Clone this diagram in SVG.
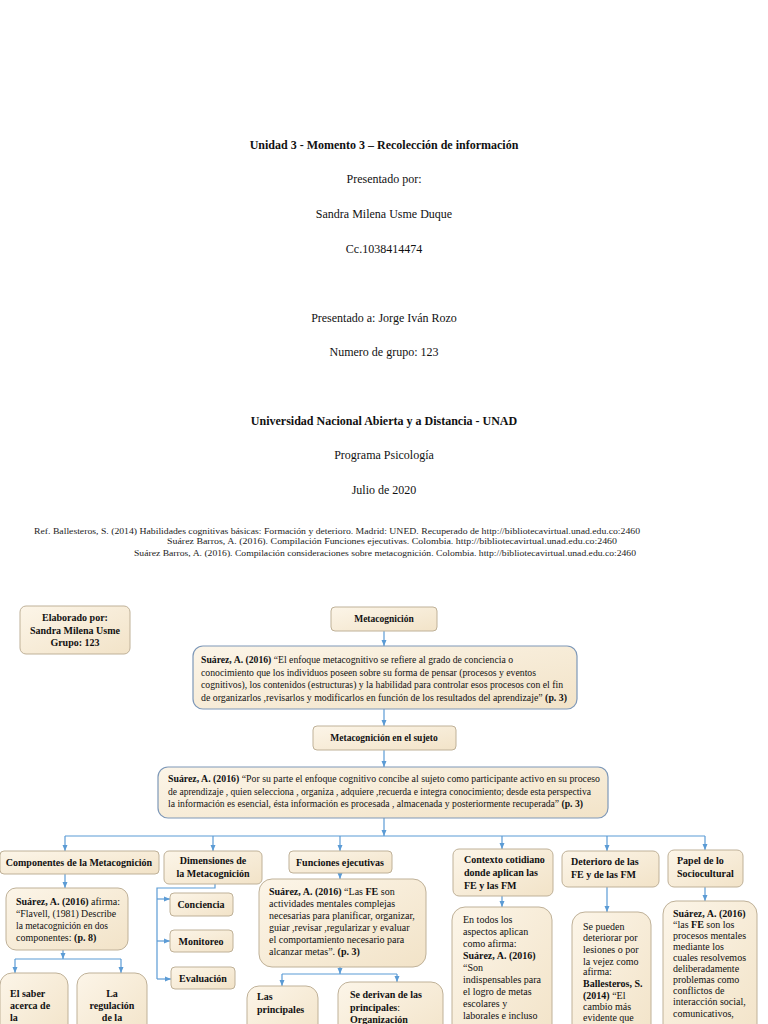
<svg xmlns="http://www.w3.org/2000/svg" width="768" height="1024" viewBox="0 0 768 1024">
<style>
.t{font-family:"Liberation Serif","Times New Roman",serif;font-size:12px;fill:#111}
.r{font-family:"Liberation Serif","Times New Roman",serif;font-size:9px;fill:#222}
.x{font-family:"Liberation Serif","Times New Roman",serif;font-size:9.5px;fill:#111}
.s{font-family:"Liberation Serif","Times New Roman",serif;font-size:10px;fill:#111}
.b{font-weight:bold}
.c{text-anchor:middle}
.n{fill:url(#pg);stroke:#bfb198;stroke-width:1}
.nb{fill:url(#pg);stroke:#7e98b8;stroke-width:1.2}
.k{fill:none;stroke:#5b9bd5;stroke-width:1.2}
</style>
<defs>
<linearGradient id="pg" x1="0" y1="0" x2="1" y2="1">
<stop offset="0" stop-color="#fcf5e8"/>
<stop offset="1" stop-color="#f2e3c8"/>
</linearGradient>
<marker id="ah" viewBox="0 0 6 6" refX="6" refY="3" markerWidth="6" markerHeight="6" markerUnits="userSpaceOnUse" orient="auto">
<path d="M0,0.5 L6,3 L0,5.5 z" fill="#5b9bd5"/>
</marker>
</defs>
<rect width="768" height="1024" fill="#fff"/>

<g id="cover">
<text class="t b c" x="384" y="149">Unidad 3 - Momento 3 – Recolección de información</text>
<text class="t c" x="384" y="183">Presentado por:</text>
<text class="t c" x="384" y="218">Sandra Milena Usme Duque</text>
<text class="t c" x="384" y="253">Cc.1038414474</text>
<text class="t c" x="384" y="322">Presentado a: Jorge Iván Rozo</text>
<text class="t c" x="384" y="356">Numero de grupo: 123</text>
<text class="t b c" x="384" y="425">Universidad Nacional Abierta y a Distancia - UNAD</text>
<text class="t c" x="384" y="459">Programa Psicología</text>
<text class="t c" x="384" y="494">Julio de 2020</text>
<text class="r" x="34" y="534" textLength="606" lengthAdjust="spacingAndGlyphs">Ref. Ballesteros, S. (2014) Habilidades cognitivas básicas: Formación y deterioro. Madrid: UNED. Recuperado de http://bibliotecavirtual.unad.edu.co:2460</text>
<text class="r" x="167" y="544" textLength="450" lengthAdjust="spacingAndGlyphs">Suárez Barros, A. (2016). Compilación Funciones ejecutivas. Colombia. http://bibliotecavirtual.unad.edu.co:2460</text>
<text class="r" x="134" y="556" textLength="502" lengthAdjust="spacingAndGlyphs">Suárez Barros, A. (2016). Compilación consideraciones sobre metacognición. Colombia. http://bibliotecavirtual.unad.edu.co:2460</text>
</g>

<g id="connectors">
<path class="k" d="M384,631 V646" marker-end="url(#ah)"/>
<path class="k" d="M384,709 V726" marker-end="url(#ah)"/>
<path class="k" d="M384,750 V767" marker-end="url(#ah)"/>
<path class="k" d="M384,818 V836" marker-end="url(#ah)"/>
<path class="k" d="M65,836 H705"/>
<path class="k" d="M65,836 V851" marker-end="url(#ah)"/>
<path class="k" d="M213,836 V851" marker-end="url(#ah)"/>
<path class="k" d="M340,836 V851" marker-end="url(#ah)"/>
<path class="k" d="M502,836 V849" marker-end="url(#ah)"/>
<path class="k" d="M607,836 V851" marker-end="url(#ah)"/>
<path class="k" d="M705,836 V850" marker-end="url(#ah)"/>
<path class="k" d="M65,874 V888" marker-end="url(#ah)"/>
<path class="k" d="M63,950 V959" marker-end="url(#ah)"/>
<path class="k" d="M15,959 H121"/>
<path class="k" d="M15,959 V973" marker-end="url(#ah)"/>
<path class="k" d="M121,959 V973" marker-end="url(#ah)"/>
<path class="k" d="M215,884 V888 H157 V979"/>
<path class="k" d="M157,899 H170" marker-end="url(#ah)"/>
<path class="k" d="M157,941 H170" marker-end="url(#ah)"/>
<path class="k" d="M157,979 H171" marker-end="url(#ah)"/>
<path class="k" d="M340,873 V879" marker-end="url(#ah)"/>
<path class="k" d="M340,967 V974" marker-end="url(#ah)"/>
<path class="k" d="M282,974 H397"/>
<path class="k" d="M282,974 V986" marker-end="url(#ah)"/>
<path class="k" d="M397,974 V982" marker-end="url(#ah)"/>
<path class="k" d="M502,896 V907" marker-end="url(#ah)"/>
<path class="k" d="M607,887 V912" marker-end="url(#ah)"/>
<path class="k" d="M705,887 V901" marker-end="url(#ah)"/>
</g>

<g id="elaborado">
<rect class="n" x="20" y="606" width="110" height="48" rx="6"/>
<text class="s b c" x="75" y="621">Elaborado por:</text>
<text class="s b c" x="75" y="634">Sandra Milena Usme</text>
<text class="s b c" x="75" y="646">Grupo: 123</text>
</g>

<g id="metacognicion">
<rect class="n" x="331" y="607" width="106" height="24" rx="4"/>
<text class="x b c" x="384" y="622">Metacognición</text>
</g>

<g id="suarez1">
<rect class="nb" x="193" y="646" width="384" height="63" rx="10"/>
<text class="x" x="201" y="663" textLength="312" lengthAdjust="spacingAndGlyphs"><tspan class="b">Suárez, A. (2016)</tspan> “El enfoque metacognitivo se refiere al grado de conciencia o</text>
<text class="x" x="201" y="676" textLength="335" lengthAdjust="spacingAndGlyphs">conocimiento que los individuos poseen sobre su forma de pensar (procesos y eventos</text>
<text class="x" x="201" y="688" textLength="362" lengthAdjust="spacingAndGlyphs">cognitivos), los contenidos (estructuras) y la habilidad para controlar esos procesos con el fin</text>
<text class="x" x="201" y="701" textLength="366" lengthAdjust="spacingAndGlyphs">de organizarlos ,revisarlos y modificarlos en función de los resultados del aprendizaje” <tspan class="b">(p. 3)</tspan></text>
</g>

<g id="sujeto">
<rect class="n" x="313" y="726" width="143" height="24" rx="4"/>
<text class="x b c" x="384" y="741">Metacognición en el sujeto</text>
</g>

<g id="suarez2">
<rect class="nb" x="158" y="767" width="450" height="51" rx="10"/>
<text class="x" x="168" y="782" textLength="432" lengthAdjust="spacingAndGlyphs"><tspan class="b">Suárez, A. (2016)</tspan> “Por su parte el enfoque cognitivo concibe al sujeto como participante activo en su proceso</text>
<text class="x" x="168" y="795" textLength="423" lengthAdjust="spacingAndGlyphs">de aprendizaje , quien selecciona , organiza , adquiere ,recuerda e integra conocimiento; desde esta perspectiva</text>
<text class="x" x="168" y="807" textLength="415" lengthAdjust="spacingAndGlyphs">la información es esencial, ésta información es procesada , almacenada y posteriormente recuperada” <tspan class="b">(p. 3)</tspan></text>
</g>

<g id="componentes">
<rect class="n" x="0" y="851" width="159" height="23" rx="4"/>
<text class="s b c" x="79" y="866">Componentes de la Metacognición</text>
</g>

<g id="componentes-texto">
<rect class="n" x="6" y="888" width="122" height="62" rx="10"/>
<text class="s" x="16" y="905"><tspan class="b">Suárez, A. (2016)</tspan> afirma:</text>
<text class="s" x="16" y="917" textLength="100" lengthAdjust="spacingAndGlyphs">“Flavell, (1981) Describe</text>
<text class="s" x="16" y="929" textLength="92" lengthAdjust="spacingAndGlyphs">la metacognición en dos</text>
<text class="s" x="16" y="941">componentes: <tspan class="b">(p. 8)</tspan></text>
</g>

<g id="saber">
<rect class="n" x="0" y="973" width="68" height="70" rx="12"/>
<text class="s b" x="10" y="997">El saber</text>
<text class="s b" x="10" y="1009">acerca de</text>
<text class="s b" x="10" y="1021">la</text>
</g>

<g id="regulacion">
<rect class="n" x="77" y="973" width="70" height="70" rx="12"/>
<text class="s b c" x="112" y="997">La</text>
<text class="s b c" x="112" y="1009">regulación</text>
<text class="s b c" x="112" y="1021">de la</text>
</g>

<g id="dimensiones">
<rect class="n" x="164" y="851" width="98" height="33" rx="5"/>
<text class="s b c" x="213" y="864">Dimensiones de</text>
<text class="s b c" x="213" y="877">la Metacognición</text>
</g>

<g id="conciencia">
<rect class="n" x="170" y="893" width="63" height="23" rx="4"/>
<text class="s b c" x="201" y="908">Conciencia</text>
</g>

<g id="monitoreo">
<rect class="n" x="170" y="930" width="63" height="22" rx="4"/>
<text class="s b c" x="201" y="945">Monitoreo</text>
</g>

<g id="evaluacion">
<rect class="n" x="171" y="967" width="64" height="22" rx="4"/>
<text class="s b c" x="203" y="982">Evaluación</text>
</g>

<g id="funciones">
<rect class="n" x="289" y="851" width="103" height="22" rx="4"/>
<text class="s b c" x="340" y="866">Funciones ejecutivas</text>
</g>

<g id="funciones-texto">
<rect class="n" x="259" y="879" width="167" height="88" rx="13"/>
<text class="s" x="269" y="895"><tspan class="b">Suárez, A. (2016)</tspan> “Las <tspan class="b">FE</tspan> son</text>
<text class="s" x="269" y="907">actividades mentales complejas</text>
<text class="s" x="269" y="919">necesarias para planificar, organizar,</text>
<text class="s" x="269" y="931">guiar ,revisar ,regularizar y evaluar</text>
<text class="s" x="269" y="943">el comportamiento necesario para</text>
<text class="s" x="269" y="955">alcanzar metas”. <tspan class="b">(p. 3)</tspan></text>
</g>

<g id="principales">
<rect class="n" x="247" y="986" width="71" height="60" rx="12"/>
<text class="s b" x="257" y="1000">Las</text>
<text class="s b" x="257" y="1013">principales</text>
</g>

<g id="derivan">
<rect class="n" x="338" y="982" width="105" height="64" rx="12"/>
<text class="s b" x="350" y="998">Se derivan de las</text>
<text class="s" x="350" y="1011"><tspan class="b">principales</tspan>:</text>
<text class="s b" x="350" y="1023">Organización</text>
</g>

<g id="contexto">
<rect class="n" x="453" y="849" width="100" height="47" rx="6"/>
<text class="s b" x="464" y="863">Contexto cotidiano</text>
<text class="s b" x="464" y="876">donde aplican las</text>
<text class="s b" x="464" y="889">FE y las FM</text>
</g>

<g id="contexto-texto">
<rect class="n" x="452" y="907" width="100" height="140" rx="13"/>
<text class="s" x="463" y="923">En todos los</text>
<text class="s" x="463" y="935">aspectos aplican</text>
<text class="s" x="463" y="947">como afirma:</text>
<text class="s b" x="463" y="959">Suárez, A. (2016)</text>
<text class="s" x="463" y="971">“Son</text>
<text class="s" x="463" y="983">indispensables para</text>
<text class="s" x="463" y="995">el logro de metas</text>
<text class="s" x="463" y="1007">escolares y</text>
<text class="s" x="463" y="1019">laborales e incluso</text>
</g>

<g id="deterioro">
<rect class="n" x="562" y="851" width="97" height="36" rx="6"/>
<text class="s b" x="571" y="865">Deterioro de las</text>
<text class="s b" x="571" y="878">FE y de las FM</text>
</g>

<g id="deterioro-texto">
<rect class="n" x="572" y="912" width="79" height="135" rx="13"/>
<text class="s" x="583" y="930">Se pueden</text>
<text class="s" x="583" y="941">deteriorar por</text>
<text class="s" x="583" y="953">lesiones o por</text>
<text class="s" x="583" y="965">la vejez como</text>
<text class="s" x="583" y="975">afirma:</text>
<text class="s b" x="583" y="987">Ballesteros, S.</text>
<text class="s" x="583" y="999"><tspan class="b">(2014)</tspan> “El</text>
<text class="s" x="583" y="1010">cambio más</text>
<text class="s" x="583" y="1021">evidente que</text>
</g>

<g id="papel">
<rect class="n" x="668" y="850" width="75" height="37" rx="6"/>
<text class="s b" x="677" y="864">Papel de lo</text>
<text class="s b" x="677" y="877">Sociocultural</text>
</g>

<g id="papel-texto">
<rect class="n" x="663" y="901" width="94" height="146" rx="13"/>
<text class="s b" x="673" y="917">Suárez, A. (2016)</text>
<text class="s" x="673" y="928">“las <tspan class="b">FE</tspan> son los</text>
<text class="s" x="673" y="939">procesos mentales</text>
<text class="s" x="673" y="950">mediante los</text>
<text class="s" x="673" y="961">cuales resolvemos</text>
<text class="s" x="673" y="972">deliberadamente</text>
<text class="s" x="673" y="983">problemas como</text>
<text class="s" x="673" y="994">conflictos de</text>
<text class="s" x="673" y="1005">interacción social,</text>
<text class="s" x="673" y="1017">comunicativos,</text>
</g>
</svg>
